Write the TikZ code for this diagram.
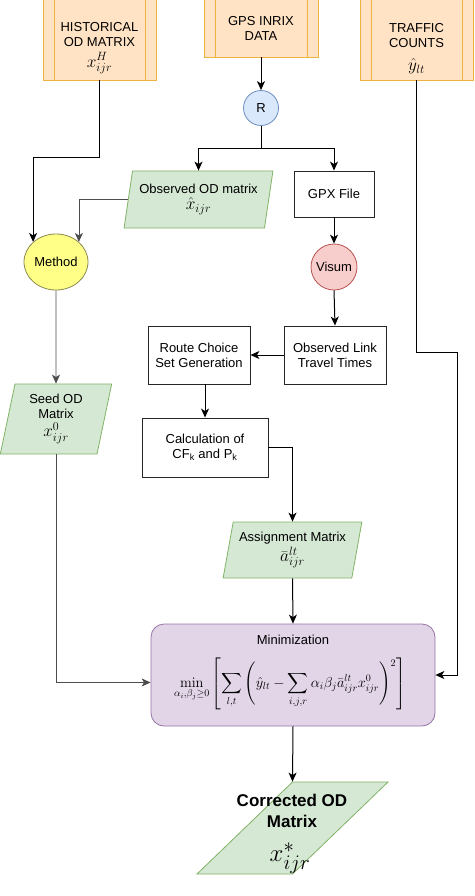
\documentclass[tikz,border=0pt]{standalone}
\usepackage{exscale}
\usepackage[no-math]{fontspec}
\setmainfont{Liberation Sans}
\usetikzlibrary{shapes.geometric,arrows.meta}
\definecolor{procfill}{HTML}{FFE3C4}
\definecolor{procline}{HTML}{EDB33F}
\definecolor{datfill}{HTML}{D5E8D4}
\definecolor{datline}{HTML}{82B366}
\definecolor{rfill}{HTML}{DAE8FC}
\definecolor{rline}{HTML}{6C8EBF}
\definecolor{visfill}{HTML}{F8CECC}
\definecolor{visline}{HTML}{B85450}
\definecolor{metfill}{HTML}{FFFF88}
\definecolor{metline}{HTML}{8A8A50}
\definecolor{minfill}{HTML}{E1D5E7}
\definecolor{minline}{HTML}{9673A6}
\newcommand{\bigmath}[1]{{\fontsize{17}{17}\selectfont$#1$}}
\tikzset{
	proc/.style={draw=procline,fill=procfill,line width=0.9pt,minimum width=113pt,minimum height=82pt,inner sep=0pt,align=center,
		path picture={\draw[procline,line width=0.9pt] ([xshift=11pt]path picture bounding box.north west) -- ([xshift=11pt]path picture bounding box.south west) ([xshift=-11pt]path picture bounding box.north east) -- ([xshift=-11pt]path picture bounding box.south east);}},
	databox/.style={trapezium,trapezium left angle=76,trapezium right angle=104,trapezium stretches=true,draw=datline,fill=datfill,line width=0.8pt,inner sep=0pt,align=center},
	stepbox/.style={draw=black!85,fill=white,line width=0.9pt,minimum width=102pt,minimum height=58pt,inner sep=0pt,align=center},
	link/.style={->,line width=1pt},
	glink/.style={->,line width=0.8pt,draw=black!70}
}
\begin{document}
\begin{tikzpicture}[>={Stealth[length=9pt,width=8pt,inset=2.5pt]},x=1pt,y=-1pt,font=\fontsize{13}{15}\selectfont]
	\useasboundingbox (0,0) rectangle (474,896);
	\node[proc] (hist) at (99.5,39) {};
	\node[align=center] (histtext) at (99.5,48) {HISTORICAL\\OD MATRIX\\[6pt]\bigmath{x^H_{ijr}}};
	\node[proc,minimum width=114pt,minimum height=58pt] (gps) at (261,28) {GPS INRIX\\DATA};
	\node[proc] (traffic) at (416.5,39) {};
	\node[align=center] (traffictext) at (416.5,49) {TRAFFIC\\COUNTS\\[8pt]\bigmath{\hat{y}_{lt}}};
	\node[circle,draw=rline,fill=rfill,line width=0.8pt,minimum size=35pt,inner sep=0pt] (R) at (261,108) {R};
	\node[databox,minimum width=149pt,minimum height=57pt] (obs) at (198.5,199.5) {Observed OD matrix\\[1pt]\bigmath{\hat{x}_{ijr}}};
	\node[stepbox,minimum width=80pt,minimum height=46pt] (gpx) at (334,194) {GPX File};
	\node[ellipse,draw=metline,fill=metfill,line width=0.8pt,minimum width=64pt,minimum height=56pt,inner sep=0pt] (method) at (56,262) {Method};
	\node[circle,draw=visline,fill=visfill,line width=0.8pt,minimum size=46pt,inner sep=0pt] (visum) at (334,267) {Visum};
	\node[stepbox] (olink) at (335,355) {Observed Link\\Travel Times};
	\node[stepbox] (route) at (199,355) {Route Choice\\Set Generation};
	\node[stepbox,minimum width=126pt,minimum height=59pt] (calc) at (205,447.5) {Calculation of\\CF\textsubscript{k} and P\textsubscript{k}};
	\node[databox,trapezium left angle=79,trapezium right angle=101,minimum width=112pt,minimum height=70pt] (seed) at (56,419) {Seed OD\\Matrix\\[3pt]\bigmath{x^0_{ijr}}};
	\node[databox,minimum width=139pt,minimum height=56pt] (assign) at (292.5,550) {Assignment Matrix\\[2pt]\bigmath{\bar{a}^{lt}_{ijr}}};
	\node[draw=minline,fill=minfill,line width=0.8pt,rounded corners=13pt,minimum width=284pt,minimum height=102pt] (min) at (293,675) {};
	\node (mintitle) at (293,640) {Minimization};
	\node[font=\fontsize{14.5}{17}\selectfont] (minform) at (290,684) {$\displaystyle\min_{\alpha_i,\beta_j\geq 0}\left[\sum_{l,t}\left(\hat{y}_{lt}-\sum_{i,j,r}\alpha_i\beta_j\bar{a}^{lt}_{ijr}x^0_{ijr}\right)^2\right]$};
	\node[databox,minimum width=191pt,minimum height=92pt] (corr) at (292.5,828) {\strut};
	\node[font=\bfseries\fontsize{17}{21}\selectfont,align=center] (corrtext) at (292,811) {Corrected OD\\Matrix};
	\node[font=\fontsize{28}{28}\selectfont] (corrmath) at (290,858) {$x^*_{ijr}$};
	\draw[link] (gps.south) -- (R.north);
	\draw[link] (R.south) -- ++(0,23) -| (obs.north);
	\draw[link] (R.south) -- ++(0,23) -| (gpx.north);
	\draw[link] (gpx.south) -- (visum.north);
	\draw[link] (visum.south) -- (olink.north);
	\draw[link] (olink.west) -- (route.east);
	\draw[link] (calc.north |- route.south) -- (calc.north);
	\draw[link] (calc.east) -| (assign.north);
	\draw[link] (assign.south) -- (min.north);
	\draw[link] (min.south) -- (corr.north);
	\draw[link] (hist.south) -- ++(0,77) -| (method.north west);
	\draw[glink] (obs.west) -| (method.north east);
	\draw[glink] (method.south) -- (seed.north);
	\draw[glink] (seed.south) |- (min.183);
	\draw[link] (traffic.south) -- ++(0,272) -- ++(41,0) |- (min.east);
\end{tikzpicture}
\end{document}
